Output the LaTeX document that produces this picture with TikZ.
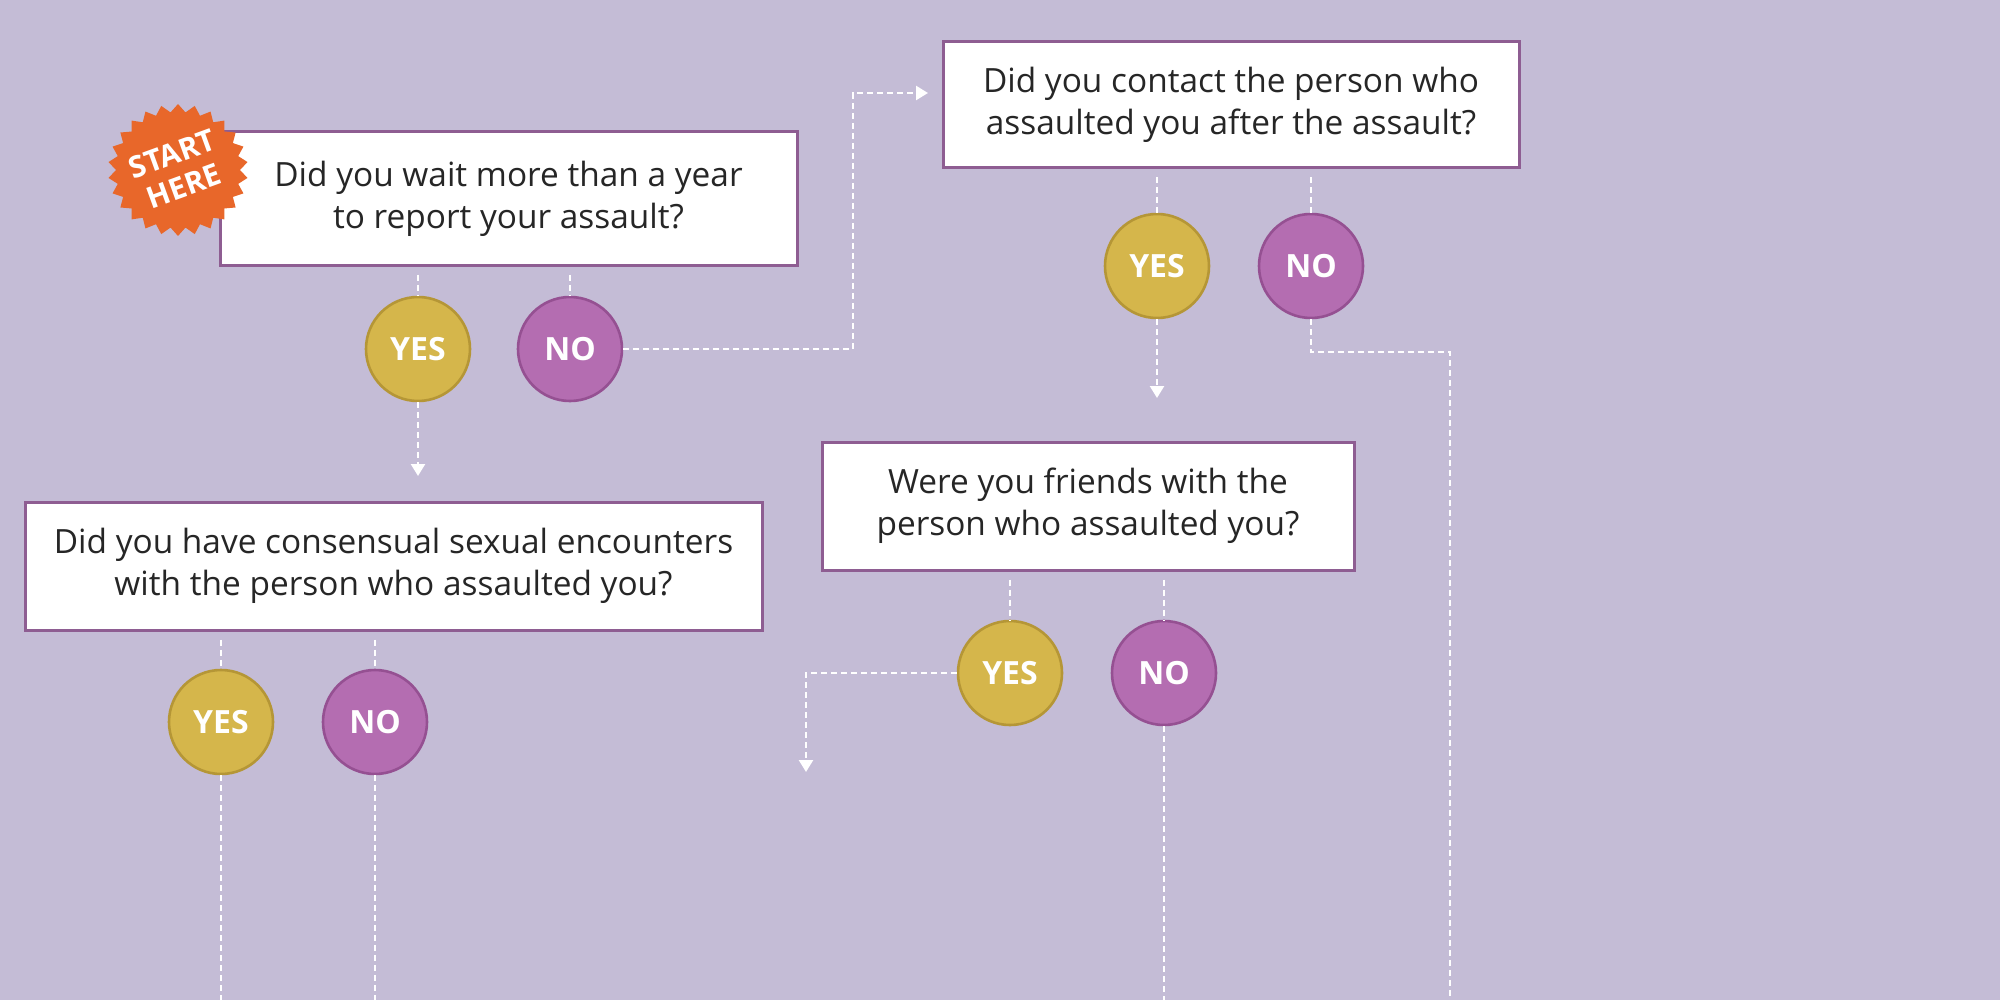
\documentclass[tikz,border=0pt]{standalone}
\usepackage{fontspec}
\setmainfont{Open Sans}
\usetikzlibrary{shapes.symbols,arrows.meta}
\definecolor{bg}{HTML}{C4BCD6}
\definecolor{yesf}{HTML}{D5B64B}
\definecolor{yesd}{HTML}{B59636}
\definecolor{nof}{HTML}{B46DB1}
\definecolor{nod}{HTML}{955092}
\definecolor{boxd}{HTML}{8E5D92}
\definecolor{orng}{HTML}{E8672A}
\begin{document}
\begin{tikzpicture}[x=0.5pt,y=-0.5pt,
  qbox/.style={draw=boxd,line width=1.5pt,fill=white,inner sep=0pt,font=\fontsize{16.7}{21}\selectfont,align=center,text=black!85},
  yesc/.style={circle,draw=yesd,line width=1.3pt,fill=yesf,minimum size=52pt,inner sep=0pt,text=white,font=\fontsize{16}{18}\selectfont\bfseries},
  noc/.style={circle,draw=nod,line width=1.3pt,fill=nof,minimum size=52pt,inner sep=0pt,text=white,font=\fontsize{16}{18}\selectfont\bfseries},
  con/.style={white,densely dashed,line width=1.2pt},
  arr/.style={con,-{Triangle[width=7pt,length=6pt]}}]
\fill[bg] (0,0) rectangle (2000,1000);
\useasboundingbox (0,0) rectangle (2000,1000);
% boxes
\node[qbox,minimum width=288.5pt,minimum height=66.5pt] (b1) at (508.5,198.5) {Did you wait more than a year\\to report your assault?};
\node[qbox,minimum width=288pt,minimum height=63pt] (b2) at (1231,105) {Did you contact the person who\\assaulted you after the assault?};
\node[qbox,minimum width=368.5pt,minimum height=64pt] (b3) at (393.5,566) {Did you have consensual sexual encounters\\with the person who assaulted you?};
\node[qbox,minimum width=266pt,minimum height=64pt] (b4) at (1088,506) {Were you friends with the\\person who assaulted you?};
% start badge
\node[starburst,starburst points=26,starburst point height=4pt,random starburst=0,fill=orng,minimum width=70pt,minimum height=66pt,inner sep=0pt] (st) at (178,170) {};
\node[rotate=20,text=white,font=\fontsize{15}{17}\selectfont\bfseries,align=center] (stt) at (st.center) {START\\HERE};
% circles
\node[yesc] (y1) at (418,349) {YES};
\node[noc] (n1) at (570,349) {NO};
\node[yesc] (y2) at (1157,266) {YES};
\node[noc] (n2) at (1311,266) {NO};
\node[yesc] (y3) at (221,722) {YES};
\node[noc] (n3) at (375,722) {NO};
\node[yesc] (y4) at (1010,673) {YES};
\node[noc] (n4) at (1164,673) {NO};
% stubs from boxes
\foreach \c/\b in {y1/b1,n1/b1,y2/b2,n2/b2,y3/b3,n3/b3,y4/b4,n4/b4}
  \draw[con] (\b.south -| \c) ++(0,8) -- (\c.north);
% connectors
\coordinate (a1) at (418,476);
\draw[arr] (y1.south) -- (a1);
\coordinate (a2) at (928,93);
\draw[arr] (n1.east) -- (853,349) -- (853,93) -- (a2);
\coordinate (a3) at (1157,398);
\draw[arr] (y2.south) -- (a3);
\coordinate (e2) at (1450,1000);
\draw[con] (n2.south) -- (1311,352) -- (1450,352) -- (e2);
\coordinate (a4) at (806,772);
\draw[arr] (y4.west) -- (806,673) -- (a4);
\coordinate (e4) at (1164,1000);
\draw[con] (n4.south) -- (e4);
\coordinate (e3) at (221,1000);
\coordinate (e3b) at (375,1000);
\draw[con] (y3.south) -- (e3);
\draw[con] (n3.south) -- (e3b);
\end{tikzpicture}
\end{document}
